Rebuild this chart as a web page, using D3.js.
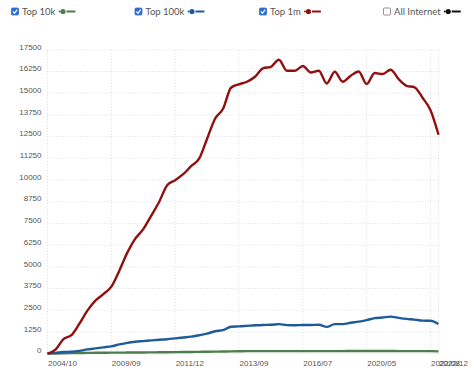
<!DOCTYPE html>
<html>
<head>
<meta charset="utf-8">
<script src="https://cdn.jsdelivr.net/npm/d3@7"></script>
<style>
  body { margin: 0; background: #fff; }
  svg { display: block; font-family: Lato, "Open Sans", sans-serif; }
</style>
</head>
<body>
<div id="chart"></div>
<script>
// x positions are data point indices (irregular dates), labels every 8 points
const tickIdx = [0, 8, 16, 24, 32, 40, 48, 49];
const tickLabels = ['2004/10', '2009/09', '2011/12', '2013/09', '2016/07', '2020/05', '2022/08', '2022/12'];

const yTicks = d3.range(0, 17501, 1250);

const top1m = [0, 230, 835, 1065, 1727, 2475, 3051, 3425, 3857, 4778,
  5815, 6620, 7168, 7945, 8751, 9700, 9988, 10334, 10794, 11226,
  12378, 13529, 14105, 15314, 15515, 15659, 15947, 16436, 16523, 16926,
  16292, 16292, 16563, 16194, 16292, 15561, 16235, 15659, 16004, 16252,
  15527, 16160, 16102, 16350, 15815, 15429, 15342, 14738, 14018, 12608];

const top100k = [0, 40, 90, 110, 160, 240, 300, 360, 420, 530,
  620, 680, 720, 760, 800, 830, 880, 930, 980, 1060,
  1150, 1290, 1350, 1550, 1570, 1600, 1630, 1650, 1660, 1700,
  1640, 1630, 1650, 1650, 1660, 1540, 1700, 1700, 1780, 1840,
  1930, 2040, 2080, 2130, 2060, 2000, 1960, 1900, 1890, 1700];

const top10k = [0, 10, 20, 30, 35, 40, 45, 50, 55, 55,
  60, 65, 65, 70, 75, 80, 85, 90, 95, 100,
  110, 115, 120, 130, 135, 140, 140, 140, 145, 145,
  145, 145, 145, 145, 145, 140, 145, 145, 150, 150,
  150, 150, 150, 150, 145, 145, 140, 140, 140, 130];

const legendItems = [
  { name: 'Top 10k', color: '#4e7d4e', checked: true },
  { name: 'Top 100k', color: '#1f5a99', checked: true },
  { name: 'Top 1m', color: '#920f0f', checked: true },
  { name: 'All Internet', color: '#111', checked: false }
];

const W = 474, H = 372;
const margin = { top: 50, right: 35, bottom: 18, left: 47.5 };

const svg = d3.select('#chart').append('svg')
  .attr('width', W)
  .attr('height', H);

const x = d3.scaleLinear()
  .domain([0, top1m.length - 1])
  .range([margin.left, 438.5]);

const y = d3.scaleLinear()
  .domain([0, 17500])
  .range([353.6, 49.8]);

// grid
const grid = svg.append('g');
grid.selectAll('.hg')
  .data(yTicks)
  .enter().append('line')
  .attr('x1', x(0)).attr('x2', x(49))
  .attr('y1', d => y(d)).attr('y2', d => y(d))
  .attr('stroke', '#dcdcdc')
  .attr('stroke-dasharray', '1,2');

grid.selectAll('.vg')
  .data(tickIdx)
  .enter().append('line')
  .attr('x1', d => x(d)).attr('x2', d => x(d))
  .attr('y1', y(17500)).attr('y2', y(0))
  .attr('stroke', '#dcdcdc')
  .attr('stroke-dasharray', '1,2');

// y axis labels
const yAxis = d3.axisLeft(y).tickValues(yTicks).tickFormat(d3.format('d'))
  .tickSize(0).tickPadding(6);
svg.append('g')
  .attr('transform', `translate(${margin.left},0)`)
  .call(yAxis)
  .call(g => g.select('.domain').remove())
  .call(g => g.selectAll('text')
    .attr('dy', '-0.1em')
    .attr('fill', '#555')
    .style('font-size', '8px'));

// x axis labels (left-aligned at the tick)
const xAxis = d3.axisBottom(x).tickValues(tickIdx)
  .tickFormat((d, i) => tickLabels[i]).tickSize(0).tickPadding(7);
svg.append('g')
  .attr('transform', `translate(0,${y(0)})`)
  .call(xAxis)
  .call(g => g.select('.domain').remove())
  .call(g => g.selectAll('text')
    .attr('text-anchor', 'start')
    .attr('fill', '#555')
    .style('font-size', '8px'));

// lines
const line = d3.line()
  .x((d, i) => x(i))
  .y(d => y(d))
  .curve(d3.curveMonotoneX);

[[top10k, legendItems[0].color], [top100k, legendItems[1].color], [top1m, legendItems[2].color]]
  .forEach(([data, color]) => {
    svg.append('path')
      .datum(data)
      .attr('fill', 'none')
      .attr('stroke', color)
      .attr('stroke-width', 2.4)
      .attr('stroke-linejoin', 'round')
      .attr('d', line);
  });

// legend
const legendX = [11.5, 135, 259.5, 383.5];
const leg = svg.append('g').selectAll('g')
  .data(legendItems)
  .enter().append('g')
  .attr('transform', (d, i) => `translate(${legendX[i]},11.5)`);

leg.append('rect')
  .attr('x', 0).attr('y', -3.5)
  .attr('width', 7).attr('height', 7)
  .attr('rx', 1)
  .attr('fill', d => d.checked ? '#2b6fd6' : '#fff')
  .attr('stroke', d => d.checked ? '#2b6fd6' : '#777')
  .attr('stroke-width', 0.8);

leg.filter(d => d.checked).append('path')
  .attr('d', 'M1.5,0 L3,1.8 L5.6,-1.8')
  .attr('fill', 'none')
  .attr('stroke', '#fff')
  .attr('stroke-width', 1.2);

leg.append('text')
  .attr('x', 10.5)
  .attr('y', 3.3)
  .attr('fill', '#555')
  .style('font-size', '9.5px')
  .text(d => d.name);

leg.each(function(d) {
  const g = d3.select(this);
  const tw = g.select('text').node().getComputedTextLength();
  const sx = 10.5 + tw + 3;
  g.append('circle').attr('cx', sx + 1).attr('cy', 0).attr('r', 0.9).attr('fill', d.color);
  g.append('circle').attr('cx', sx + 4.5).attr('cy', 0).attr('r', 2.6).attr('fill', d.color);
  g.append('line')
    .attr('x1', sx + 8).attr('x2', sx + 17)
    .attr('y1', 0).attr('y2', 0)
    .attr('stroke', d.color).attr('stroke-width', 2);
});
</script>
</body>
</html>
